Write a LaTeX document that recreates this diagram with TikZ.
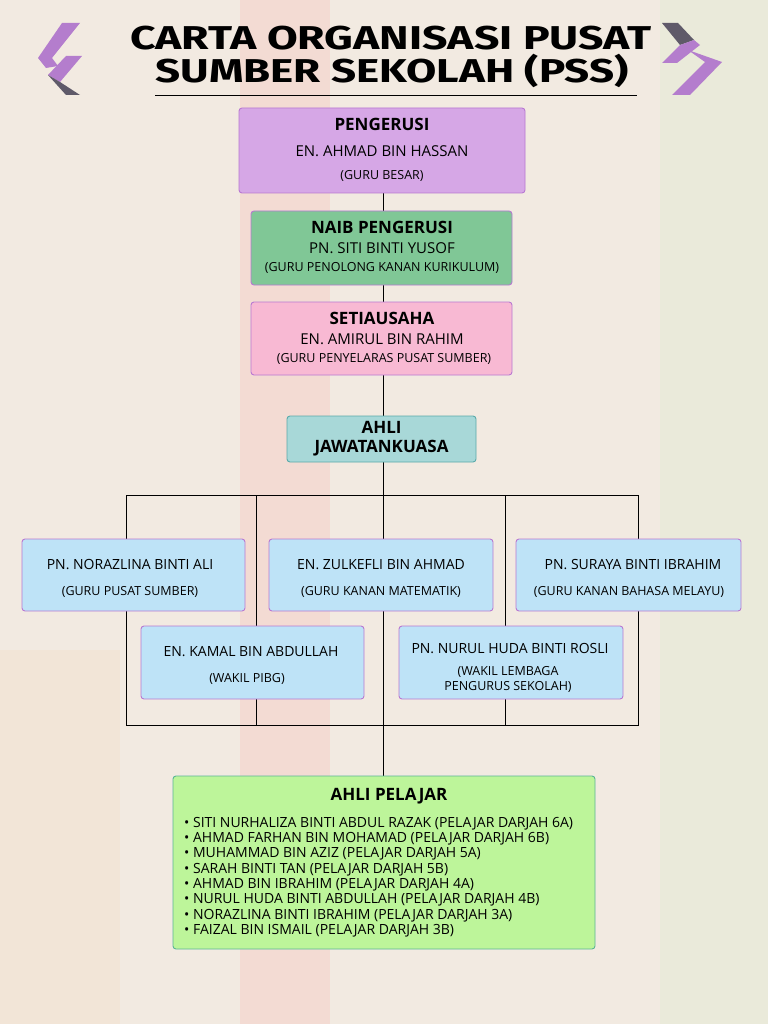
\documentclass[tikz,border=0pt]{standalone}
\usepackage{fontspec}
\usepackage{graphicx}
\setmainfont{Open Sans}
\newfontfamily\titlefont{Fira Sans}
\definecolor{bg}{RGB}{242,234,225}
\definecolor{lil}{RGB}{214,167,230}
\definecolor{pur}{RGB}{184,120,210}
\definecolor{grn}{RGB}{128,199,150}
\definecolor{pnk}{RGB}{248,185,211}
\definecolor{tea}{RGB}{168,216,216}
\definecolor{teab}{RGB}{90,170,170}
\definecolor{blu}{RGB}{190,227,247}
\definecolor{lgr}{RGB}{189,245,154}
\definecolor{lgrb}{RGB}{90,180,150}
\definecolor{chp}{RGB}{180,125,205}
\definecolor{chg}{RGB}{95,90,105}
\begin{document}
\begin{tikzpicture}[x=1pt,y=-1pt,
  box/.style={draw=pur,line width=0.9pt,rounded corners=3pt,inner sep=0pt},
  ln/.style={draw=black,line width=0.7pt},
  t/.style={font=\fontsize{15}{18}\selectfont,align=center},
  s/.style={font=\fontsize{12.5}{16}\selectfont,align=center},
  m/.style={font=\fontsize{14}{17}\selectfont,align=center},
  h/.style={font=\fontsize{17}{22}\selectfont\bfseries,align=center},
  ttl/.style={inner sep=0pt,anchor=base,font=\titlefont\fontsize{33}{33}\selectfont\bfseries}]
\useasboundingbox (0,0) rectangle (768,1024);
\fill[bg] (0,0) rectangle (768,1024);
\fill[red!12!bg,opacity=0.5] (240,0) rectangle (330,1024);
\fill[green!5!bg,opacity=0.6] (660,0) rectangle (768,1024);
\fill[orange!8!bg,opacity=0.5] (0,650) rectangle (120,1024);
% chevrons
\fill[chp] (62,23)--(80,23)--(52,58)--(38,58)--cycle;
\fill[chp] (38,58)--(52,58)--(58,66)--(46,68)--cycle;
\fill[chp] (66,56)--(82,56)--(60,82)--(48,75)--cycle;
\fill[chg] (48,75)--(60,82)--(80,95)--(66,95)--cycle;
\fill[chg] (662,23)--(678,23)--(694,40)--(680,45)--cycle;
\fill[chp] (680,45)--(694,40)--(700,45)--(677,63)--(662,63)--cycle;
\fill[chp] (688,50)--(722,62)--(690,95)--(672,95)--(705,62)--cycle;
% title
\node[ttl] (title1) at (391,50) {\scalebox{1.35}[1]{CARTA ORGANISASI PUSAT}};
\node[ttl] (title2) at (392,83) {\scalebox{1.33}[1]{SUMBER SEKOLAH (PSS)}};
\draw[line width=0.8pt] (155,95) -- (637,95);
% grid
\coordinate (tl) at (126,495); \coordinate (tr) at (638,495);
\coordinate (bl) at (126,725); \coordinate (br) at (638,725);
\draw[ln] (tl) rectangle (br);
\foreach \x in {256,383,505} \draw[ln] (\x,495) -- (\x,725);
\draw[ln] (383,193) -- (383,495);
\draw[ln] (383,725) -- (383,777);
% top boxes
\node[box,fill=lil,minimum width=286,minimum height=85] (p) at (382,150.5) {};
\node[h] at (382,124) {PENGERUSI};
\node[t] at (382,151) {EN. AHMAD BIN HASSAN};
\node[s] at (382,176) {(GURU BESAR)};
\node[box,fill=grn,minimum width=261,minimum height=74] (n) at (381.5,248) {};
\node[h] at (382,227) {NAIB PENGERUSI};
\node[t] at (382,248) {PN. SITI BINTI YUSOF};
\node[s] at (382,268) {(GURU PENOLONG KANAN KURIKULUM)};
\node[box,fill=pnk,minimum width=261,minimum height=73] (st) at (381.5,338.5) {};
\node[h] at (382,318) {SETIAUSAHA};
\node[t] at (382,339) {EN. AMIRUL BIN RAHIM};
\node[s] at (384,359) {(GURU PENYELARAS PUSAT SUMBER)};
\node[box,draw=teab,fill=tea,minimum width=189,minimum height=46,h] (ajk) at (381.5,439) {AHLI\\[-3pt]JAWATANKUASA};
% member boxes
\node[box,fill=blu,minimum width=223,minimum height=72] (a) at (133.5,575) {};
\node[m] at (130,565) {PN. NORAZLINA BINTI ALI};
\node[s] at (130,592) {(GURU PUSAT SUMBER)};
\node[box,fill=blu,minimum width=224,minimum height=72] (b) at (381,575) {};
\node[m] at (381,565) {EN. ZULKEFLI BIN AHMAD};
\node[s] at (381,592) {(GURU KANAN MATEMATIK)};
\node[box,fill=blu,minimum width=225,minimum height=72] (c) at (628.5,575) {};
\node[m] at (633,565) {PN. SURAYA BINTI IBRAHIM};
\node[s] at (629,592) {(GURU KANAN BAHASA MELAYU)};
\node[box,fill=blu,minimum width=223,minimum height=73] (d) at (252.5,662.5) {};
\node[m] at (251,652) {EN. KAMAL BIN ABDULLAH};
\node[s] at (247,679) {(WAKIL PIBG)};
\node[box,fill=blu,minimum width=224,minimum height=73] (e) at (511,662.5) {};
\node[m] at (510,649) {PN. NURUL HUDA BINTI ROSLI};
\node[s,font=\fontsize{12.5}{15}\selectfont] at (508,679) {(WAKIL LEMBAGA\\PENGURUS SEKOLAH)};
% students
\node[box,draw=lgrb,fill=lgr,minimum width=422,minimum height=173] (ap) at (384,862.5) {};
\node[h] at (389,796) {AHLI PELAJAR};
\node[font=\fontsize{14}{15.3}\selectfont,align=left,anchor=north west,inner sep=0pt] (list) at (184,817) {%
\textbullet\ SITI NURHALIZA BINTI ABDUL RAZAK (PELAJAR DARJAH 6A)\\
\textbullet\ AHMAD FARHAN BIN MOHAMAD (PELAJAR DARJAH 6B)\\
\textbullet\ MUHAMMAD BIN AZIZ (PELAJAR DARJAH 5A)\\
\textbullet\ SARAH BINTI TAN (PELAJAR DARJAH 5B)\\
\textbullet\ AHMAD BIN IBRAHIM (PELAJAR DARJAH 4A)\\
\textbullet\ NURUL HUDA BINTI ABDULLAH (PELAJAR DARJAH 4B)\\
\textbullet\ NORAZLINA BINTI IBRAHIM (PELAJAR DARJAH 3A)\\
\textbullet\ FAIZAL BIN ISMAIL (PELAJAR DARJAH 3B)};
\end{tikzpicture}
\end{document}
